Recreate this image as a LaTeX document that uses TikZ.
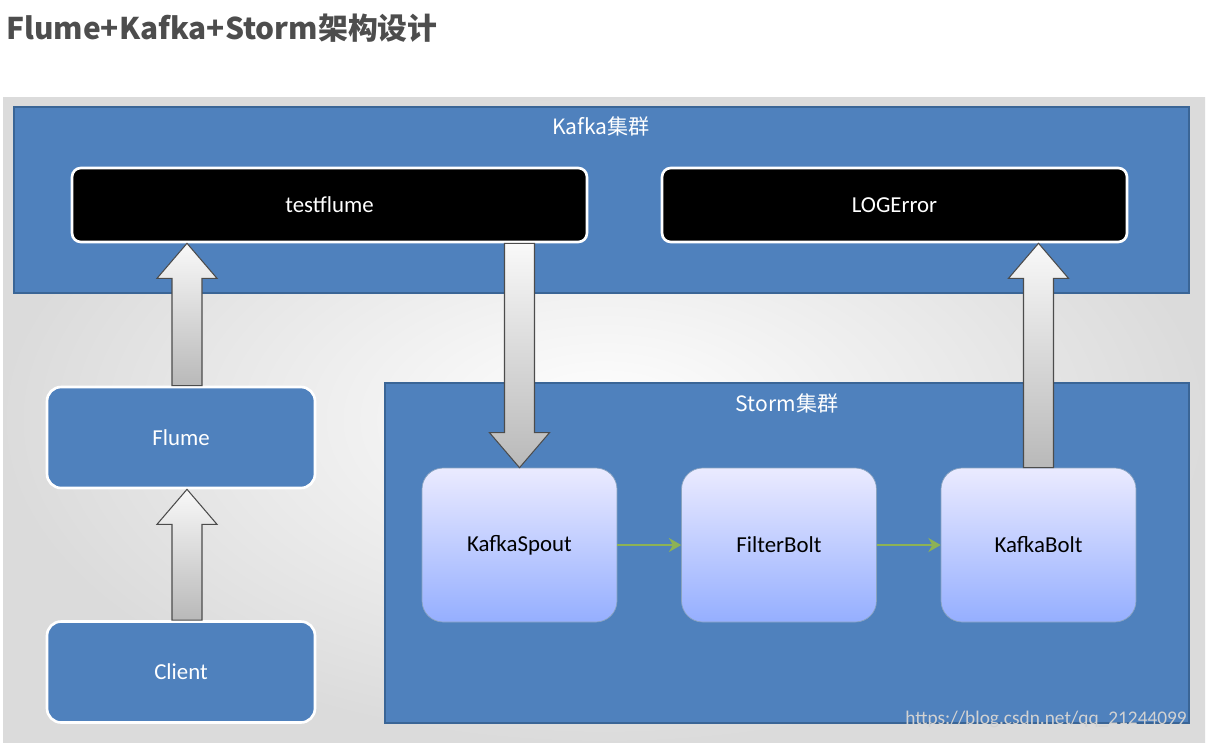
\documentclass[tikz,border=0pt]{standalone}
\usepackage{fontspec}
\setmainfont{Carlito}
\newfontfamily\cjk{Noto Sans CJK SC}
\usetikzlibrary{calc,arrows.meta}
\definecolor{clusterblue}{HTML}{4F81BD}
\definecolor{clusteredge}{HTML}{3A6596}
\definecolor{flowgreen}{HTML}{8DB255}
\definecolor{titlegray}{HTML}{4D4D4D}
\tikzset{
  cluster/.style={draw=clusteredge,fill=clusterblue,line width=0.8pt,inner sep=0pt},
  topic/.style={draw=white,fill=black,rounded corners=5pt,line width=1.5pt,text=white,
    minimum width=#1,minimum height=1.48cm,font=\fontsize{13}{15}\selectfont},
  proc/.style={draw=white,fill=clusterblue,rounded corners=8pt,line width=1.5pt,text=white,
    minimum width=5.36cm,minimum height=2.02cm,font=\fontsize{13}{15}\selectfont},
  bolt/.style={draw=clusteredge!60,rounded corners=12pt,top color=blue!8!white,bottom color=blue!35!white!90!cyan,
    minimum width=3.9cm,minimum height=3.08cm,font=\fontsize{13}{15}\selectfont},
  flow/.style={-{Stealth[length=7pt,width=8pt]},flowgreen,line width=1.6pt},
  bigarrow/.style={draw=black!70,line width=0.6pt,top color=gray!5,bottom color=gray!55},
}
\newcommand\blockarrow[2]{%
  \coordinate (hb) at ($(#2)!0.7cm!(#1)$);
  \path[bigarrow] ($(#1)+(-0.3cm,0)$) -- ($(hb)+(-0.3cm,0)$) -- ($(hb)+(-0.6cm,0)$) -- (#2)
    -- ($(hb)+(0.6cm,0)$) -- ($(hb)+(0.3cm,0)$) -- ($(#1)+(0.3cm,0)$) -- cycle;}
\begin{document}
\begin{tikzpicture}[x=0.02cm,y=-0.02cm]
  \useasboundingbox (0,0) rectangle (1213,755);
  \node[anchor=west,font=\cjk\bfseries\fontsize{17}{20}\selectfont,text=titlegray] (title) at (0,28) {Flume+Kafka+Storm架构设计};
  \shade[inner color=white,outer color=gray!28] (3,97) rectangle (1205,742);
  % clusters
  \node[cluster,minimum width=23.5cm,minimum height=3.72cm] (kafka) at (601.5,200) {};
  \node[text=white,font=\cjk\fontsize{12}{14}\selectfont] (kafkalabel) at (601,126) {Kafka集群};
  \node[cluster,minimum width=16.08cm,minimum height=6.8cm] (storm) at (787,553) {};
  \node[text=white,font=\cjk\fontsize{12}{14}\selectfont] (stormlabel) at (787,403) {Storm集群};
  % topics
  \node[topic=10.3cm] (testflume) at (329.5,205) {testflume};
  \node[topic=9.3cm] (logerror) at (894.5,205) {LOGError};
  % producers
  \node[proc] (flume) at (181,437.5) {Flume};
  \node[proc] (client) at (181,672) {Client};
  % topology
  \node[bolt] (spout) at (519.5,545) {KafkaSpout};
  \node[bolt] (filter) at (779,545) {FilterBolt};
  \node[bolt] (kbolt) at (1038.5,545) {KafkaBolt};
  \draw[flow] (spout) -- (filter);
  \draw[flow] (filter) -- (kbolt);
  % big arrows
  \coordinate (a1) at ($(client.north)+(6,0)$);
  \coordinate (a2) at ($(flume.south)+(6,0)$);
  \coordinate (a3) at ($(flume.north)+(6,0)$);
  \coordinate (a4) at (a3 |- testflume.south);
  \blockarrow{a1}{a2}
  \blockarrow{a3}{a4}
  \coordinate (b1) at (testflume.south -| spout.north);
  \blockarrow{b1}{spout.north}
  \coordinate (c2) at (kbolt.north |- logerror.south);
  \blockarrow{kbolt.north}{c2}
  \node[anchor=east,text=gray!35,font=\fontsize{11}{13}\selectfont] (mark) at (1193,719) {https://blog.csdn.net/qq\_21244099};
\end{tikzpicture}
\end{document}
